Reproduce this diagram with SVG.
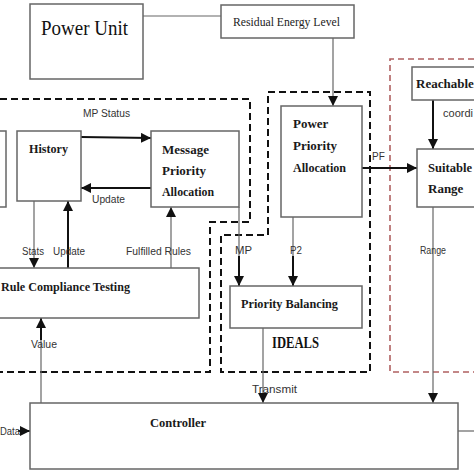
<svg xmlns="http://www.w3.org/2000/svg" width="474" height="474" viewBox="0 0 474 474">
<style>
.box{fill:#fff;stroke:#666;stroke-width:1.5}
.bt{font-family:"Liberation Serif",serif;font-weight:bold;font-size:13px;fill:#1a1a1a}
.lt{font-family:"Liberation Sans",sans-serif;font-size:10px;fill:#333}
.th{stroke:#111;stroke-width:2;fill:none}
.tn{stroke:#666;stroke-width:1.2;fill:none}
.dash{stroke:#111;stroke-width:2;fill:none;stroke-dasharray:7,4}
.rdash{stroke:#b06060;stroke-width:1.6;fill:none;stroke-dasharray:6,4}
</style>
<defs>
<marker id="ah" viewBox="0 0 10 10" refX="10" refY="5" markerWidth="10" markerHeight="10" markerUnits="userSpaceOnUse" orient="auto">
<path d="M0,0 L10,5 L0,10 Z" fill="#111"/>
</marker>
</defs>
<rect width="474" height="474" fill="#fff"/>

<g id="regions">
<path class="dash" d="M0,99 H250 V222 H210 V372 H0"/>
<path class="dash" d="M268,235 V92 H370 V372 H221 V235 H268"/>
<path class="rdash" d="M474,59 H390 V372 H474"/>
</g>

<g id="connectors">
<line class="tn" x1="143" y1="16" x2="221" y2="16"/>
<line class="tn" x1="333" y1="38" x2="333" y2="106" marker-end="url(#ah)"/>
<line class="th" x1="81" y1="137" x2="151" y2="138" marker-end="url(#ah)"/>
<line class="th" x1="151" y1="188" x2="81" y2="188" marker-end="url(#ah)"/>
<line class="tn" x1="34" y1="201" x2="34" y2="268" marker-end="url(#ah)"/>
<line class="th" x1="68" y1="268" x2="68" y2="201" marker-end="url(#ah)"/>
<line class="tn" x1="171" y1="268" x2="171" y2="207" marker-end="url(#ah)"/>
<line class="tn" x1="239" y1="207" x2="239" y2="256"/>
<line class="th" x1="239" y1="256" x2="239" y2="286" marker-end="url(#ah)"/>
<line class="tn" x1="293" y1="217" x2="293" y2="256"/>
<line class="th" x1="293" y1="256" x2="293" y2="286" marker-end="url(#ah)"/>
<line class="th" x1="362" y1="168" x2="417" y2="168" marker-end="url(#ah)"/>
<line class="th" x1="433" y1="100" x2="433" y2="149" marker-end="url(#ah)"/>
<line class="tn" x1="433" y1="207" x2="433" y2="403" marker-end="url(#ah)"/>
<line class="tn" x1="263" y1="328" x2="263" y2="403" marker-end="url(#ah)"/>
<line class="th" x1="41" y1="340" x2="41" y2="318" marker-end="url(#ah)"/>
<line class="tn" x1="41" y1="403" x2="41" y2="340"/>
<path class="th" d="M30,431 H41 V404" marker-end="url(#ah)"/>
<line class="th" x1="18" y1="431" x2="30" y2="431" marker-end="url(#ah)"/>
<line class="tn" x1="458" y1="431" x2="474" y2="431"/>
</g>

<g id="power-unit">
<rect class="box" x="30" y="4" width="113" height="75"/>
<text x="41" y="35" font-family="Liberation Serif,serif" font-size="20" fill="#111" textLength="87" lengthAdjust="spacingAndGlyphs">Power Unit</text>
</g>
<g id="residual-energy-level">
<rect class="box" x="221" y="5" width="133" height="33"/>
<text x="233" y="26" font-family="Liberation Serif,serif" font-size="11.5" fill="#222" textLength="107" lengthAdjust="spacingAndGlyphs">Residual Energy Level</text>
</g>
<g id="left-partial">
<rect class="box" x="-4" y="131" width="10" height="76"/>
</g>
<g id="history">
<rect class="box" x="17" y="131" width="64" height="70"/>
<text class="bt" x="29" y="153" textLength="39" lengthAdjust="spacingAndGlyphs">History</text>
</g>
<g id="message-priority-allocation">
<rect class="box" x="151" y="131" width="88" height="76"/>
<text class="bt" x="162" y="154">Message</text>
<text class="bt" x="162" y="175">Priority</text>
<text class="bt" x="162" y="196" textLength="52" lengthAdjust="spacingAndGlyphs">Allocation</text>
</g>
<g id="power-priority-allocation">
<rect class="box" x="281" y="106" width="81" height="111"/>
<text class="bt" x="293" y="128">Power</text>
<text class="bt" x="293" y="150">Priority</text>
<text class="bt" x="293" y="172" textLength="53" lengthAdjust="spacingAndGlyphs">Allocation</text>
</g>
<g id="reachable">
<rect class="box" x="412" y="67" width="70" height="33"/>
<text class="bt" x="416" y="88" font-size="11.5">Reachable</text>
</g>
<g id="suitable-range">
<rect class="box" x="417" y="149" width="65" height="58"/>
<text class="bt" x="428" y="172" textLength="44" lengthAdjust="spacingAndGlyphs">Suitable</text>
<text class="bt" x="428" y="193">Range</text>
</g>
<g id="rule-compliance-testing">
<rect class="box" x="-4" y="268" width="203" height="50"/>
<text class="bt" x="1" y="291" font-size="14" textLength="129" lengthAdjust="spacingAndGlyphs">Rule Compliance Testing</text>
</g>
<g id="priority-balancing">
<rect class="box" x="230" y="286" width="132" height="42"/>
<text class="bt" x="241" y="308" textLength="97" lengthAdjust="spacingAndGlyphs">Priority Balancing</text>
</g>
<text x="272" y="348" font-family="Liberation Serif,serif" font-weight="bold" font-size="17" fill="#111" textLength="47" lengthAdjust="spacingAndGlyphs">IDEALS</text>
<g id="controller">
<rect class="box" x="30" y="403" width="428" height="66"/>
<text class="bt" x="150" y="427" textLength="56" lengthAdjust="spacingAndGlyphs">Controller</text>
</g>

<g id="labels">
<text class="lt" x="83" y="117" textLength="47" lengthAdjust="spacingAndGlyphs">MP Status</text>
<text class="lt" x="92" y="203" fill="#7a6040" textLength="33" lengthAdjust="spacingAndGlyphs">Update</text>
<text class="lt" x="22" y="255" textLength="22" lengthAdjust="spacingAndGlyphs">Stats</text>
<text class="lt" x="53" y="255" textLength="32" lengthAdjust="spacingAndGlyphs">Update</text>
<text class="lt" x="126" y="255" fill="#5a4a3a" textLength="65" lengthAdjust="spacingAndGlyphs">Fulfilled Rules</text>
<text class="lt" x="235" y="254" fill="#3a5a8a" textLength="17" lengthAdjust="spacingAndGlyphs">MP</text>
<text class="lt" x="290" y="254" textLength="12" lengthAdjust="spacingAndGlyphs">P2</text>
<text class="lt" x="372" y="160">PF</text>
<text class="lt" x="443" y="117" font-size="11" textLength="30" lengthAdjust="spacingAndGlyphs">coordi</text>
<text class="lt" x="420" y="254" fill="#3a4a6a" textLength="26" lengthAdjust="spacingAndGlyphs">Range</text>
<text class="lt" x="252" y="393" fill="#4a4a4a" textLength="45" lengthAdjust="spacingAndGlyphs">Transmit</text>
<text class="lt" x="31" y="348" fill="#222" font-family="Liberation Serif,serif" font-size="11.5" textLength="26" lengthAdjust="spacingAndGlyphs">Value</text>
<text class="lt" x="0" y="435" fill="#4a3a2a" textLength="20" lengthAdjust="spacingAndGlyphs">Data</text>
</g>
</svg>
